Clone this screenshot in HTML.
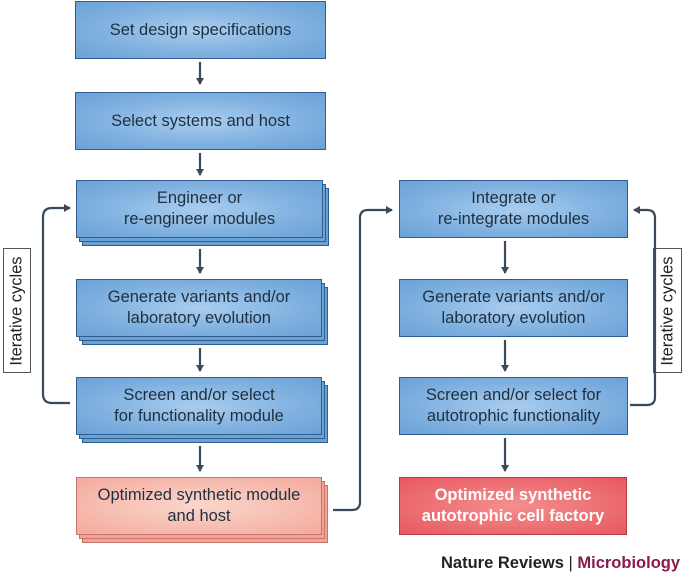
<!DOCTYPE html>
<html><head><style>
body{margin:0;width:685px;height:576px;background:#fff;overflow:hidden;font-family:"Liberation Sans","DejaVu Sans",sans-serif}
.b{position:absolute;box-sizing:border-box;border:1px solid #2f5f8f;background:radial-gradient(ellipse at center,#a9cdee 0%,#7fb0df 60%,#6ba2d6 100%);display:flex;align-items:center;justify-content:center;text-align:center;color:#1e2f40;font-size:16.5px;line-height:21px}
.s{position:absolute;box-sizing:border-box;border:1px solid #2f5f8f;background:#6ba2d6}
.p{background:radial-gradient(ellipse at center,#fbd6cc 0%,#f3aa9c 100%);border-color:#c9736a}
.sp{background:#f0a496;border-color:#c9736a}
.r{background:radial-gradient(ellipse at center,#f28f8f 0%,#e8585e 100%);border-color:#b83a42;color:#fff;font-weight:bold}
.lab{position:absolute;border:1px solid #555;background:#fff;box-sizing:border-box}
.lab span{position:absolute;left:50%;top:50%;transform:translate(-50%,-50%) rotate(-90deg);white-space:nowrap;font-size:16.5px;color:#222}
</style></head><body>
<div class="b" style="left:75px;top:1px;width:251px;height:58px">Set design specifications</div>
<div class="b" style="left:75px;top:92px;width:251px;height:58px">Select systems and host</div>

<div class="s" style="left:82px;top:188px;width:247px;height:58px"></div>
<div class="s" style="left:79px;top:184px;width:247px;height:58px"></div>
<div class="b" style="left:76px;top:180px;width:247px;height:58px">Engineer or<br>re-engineer modules</div>

<div class="s" style="left:82px;top:287px;width:246px;height:58px"></div>
<div class="s" style="left:79px;top:283px;width:246px;height:58px"></div>
<div class="b" style="left:76px;top:279px;width:246px;height:58px">Generate variants and/or<br>laboratory evolution</div>

<div class="s" style="left:82px;top:385px;width:246px;height:58px"></div>
<div class="s" style="left:79px;top:381px;width:246px;height:58px"></div>
<div class="b" style="left:76px;top:377px;width:246px;height:58px">Screen and/or select<br>for functionality module</div>

<div class="s sp" style="left:82px;top:485px;width:246px;height:58px"></div>
<div class="s sp" style="left:79px;top:481px;width:246px;height:58px"></div>
<div class="b p" style="left:76px;top:477px;width:246px;height:58px">Optimized synthetic module<br>and host</div>

<div class="b" style="left:399px;top:180px;width:229px;height:58px">Integrate or<br>re-integrate modules</div>
<div class="b" style="left:399px;top:279px;width:229px;height:58px">Generate variants and/or<br>laboratory evolution</div>
<div class="b" style="left:399px;top:377px;width:229px;height:58px">Screen and/or select for<br>autotrophic functionality</div>
<div class="b r" style="left:399px;top:477px;width:228px;height:58px">Optimized synthetic<br>autotrophic cell factory</div>

<div class="lab" style="left:3px;top:248px;width:28px;height:125px"><span>Iterative cycles</span></div>
<div class="lab" style="left:653px;top:248px;width:29px;height:125px"><span>Iterative cycles</span></div>

<svg width="685" height="576" style="position:absolute;left:0;top:0">
<defs><marker id="a" markerWidth="8" markerHeight="8" refX="6" refY="4" orient="auto" markerUnits="userSpaceOnUse"><path d="M0,0 L7,4 L0,8 Z" fill="#3a4a58"/></marker></defs>
<g stroke="#3a4a58" stroke-width="2.2" fill="none" marker-end="url(#a)">
<line x1="200" y1="62" x2="200" y2="84"/>
<line x1="200" y1="153" x2="200" y2="175"/>
<line x1="200" y1="249" x2="200" y2="273"/>
<line x1="200" y1="348" x2="200" y2="371"/>
<line x1="200" y1="446" x2="200" y2="471"/>
<line x1="505" y1="241" x2="505" y2="273"/>
<line x1="505" y1="340" x2="505" y2="371"/>
<line x1="505" y1="438" x2="505" y2="471"/>
<path d="M70,403 H52 Q43,403 43,394 V217 Q43,208 52,208 H70"/>
<path d="M333,510 H352 Q360,510 360,502 V218 Q360,210 368,210 H392"/>
<path d="M630,405 H647 Q655,405 655,397 V218 Q655,210 647,210 H634"/>
</g>
</svg>
<div style="position:absolute;left:441px;top:554px;font-size:16.5px;font-weight:bold;color:#222;white-space:nowrap">Nature Reviews <span style="font-weight:normal">|</span> <span style="color:#8a1a4a">Microbiology</span></div>
</body></html>
